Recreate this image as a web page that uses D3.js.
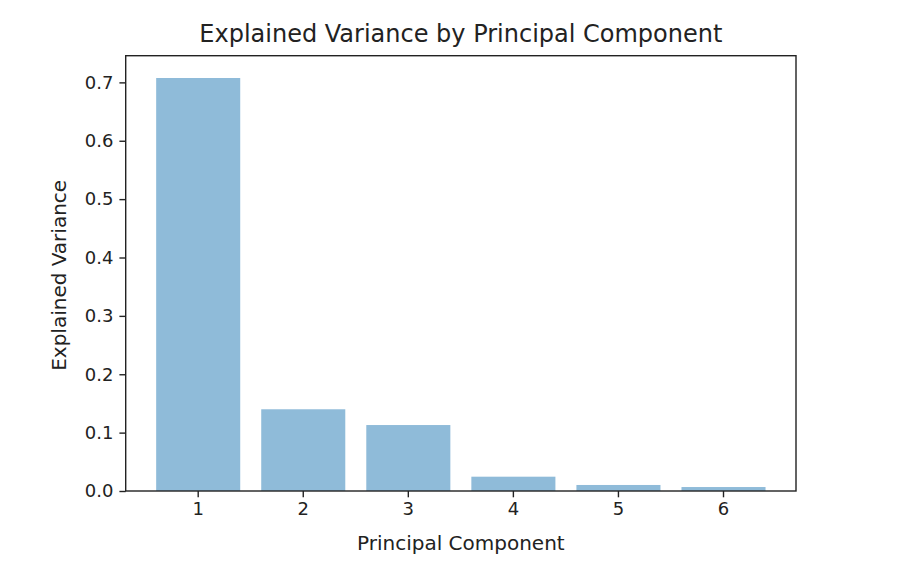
<!DOCTYPE html>
<html>
<head>
<meta charset="utf-8">
<script src="https://cdn.jsdelivr.net/npm/d3@7"></script>
<style>
  body { margin: 0; background: #fff; }
  text { font-family: "DejaVu Sans", sans-serif; fill: #222; }
</style>
</head>
<body>
<svg width="900" height="582"></svg>
<script>
var components = [1, 2, 3, 4, 5, 6]
var variance = [0.7075, 0.140, 0.113, 0.0245, 0.0103, 0.0068]
var yTicks = [0, 0.1, 0.2, 0.3, 0.4, 0.5, 0.6, 0.7]

var svg = d3.select('svg')
var margin = {left: 125.7, right: 104, top: 55.7, bottom: 91}
var width = 900, height = 582

var x = d3.scaleBand()
  .domain(components)
  .range([margin.left, width - margin.right])
  .paddingInner(0.2)
  .paddingOuter(0.29)

var y = d3.scaleLinear()
  .domain([0, d3.max(variance) * 1.054])
  .range([height - margin.bottom, margin.top])

svg.append('g')
  .selectAll('rect')
  .data(variance)
  .enter()
  .append('rect')
    .attr('x', (d, i) => x(components[i]))
    .attr('width', x.bandwidth())
    .attr('y', d => y(d))
    .attr('height', d => y(0) - y(d))
    .attr('fill', '#1f77b4')
    .attr('fill-opacity', 0.5)

var xAxis = g => g
  .attr('transform', `translate(0,${height - margin.bottom})`)
  .call(d3.axisBottom(x).tickSize(6.3).tickPadding(5))
  .call(g => g.select('.domain').remove())
  .call(g => g.selectAll('.tick line').attr('stroke', '#222').attr('stroke-width', 1.4))
  .call(g => g.selectAll('.tick text').style('font-size', '18px').attr('fill', '#222'))

var yAxis = g => g
  .attr('transform', `translate(${margin.left},0)`)
  .call(d3.axisLeft(y).tickValues(yTicks).tickFormat(d3.format('.1f')).tickSize(6.3).tickPadding(6))
  .call(g => g.select('.domain').remove())
  .call(g => g.selectAll('.tick line').attr('stroke', '#222').attr('stroke-width', 1.4))
  .call(g => g.selectAll('.tick text').style('font-size', '18px').attr('fill', '#222'))

svg.append('g').call(xAxis)
svg.append('g').call(yAxis)

// frame around the plot
svg.append('rect')
  .attr('x', margin.left)
  .attr('y', margin.top)
  .attr('width', width - margin.left - margin.right)
  .attr('height', height - margin.top - margin.bottom)
  .attr('fill', 'none')
  .attr('stroke', '#222')
  .attr('stroke-width', 1.4)

var cx = (margin.left + width - margin.right) / 2

svg.append('text')
  .attr('x', cx)
  .attr('y', 42.3)
  .attr('text-anchor', 'middle')
  .style('font-size', '24px')
  .text('Explained Variance by Principal Component')

svg.append('text')
  .attr('x', cx)
  .attr('y', 550)
  .attr('text-anchor', 'middle')
  .style('font-size', '20px')
  .text('Principal Component')

svg.append('text')
  .attr('transform', `translate(66,${(margin.top + height - margin.bottom) / 2 + 2}) rotate(-90)`)
  .attr('text-anchor', 'middle')
  .style('font-size', '20px')
  .text('Explained Variance')
</script>
</body>
</html>
